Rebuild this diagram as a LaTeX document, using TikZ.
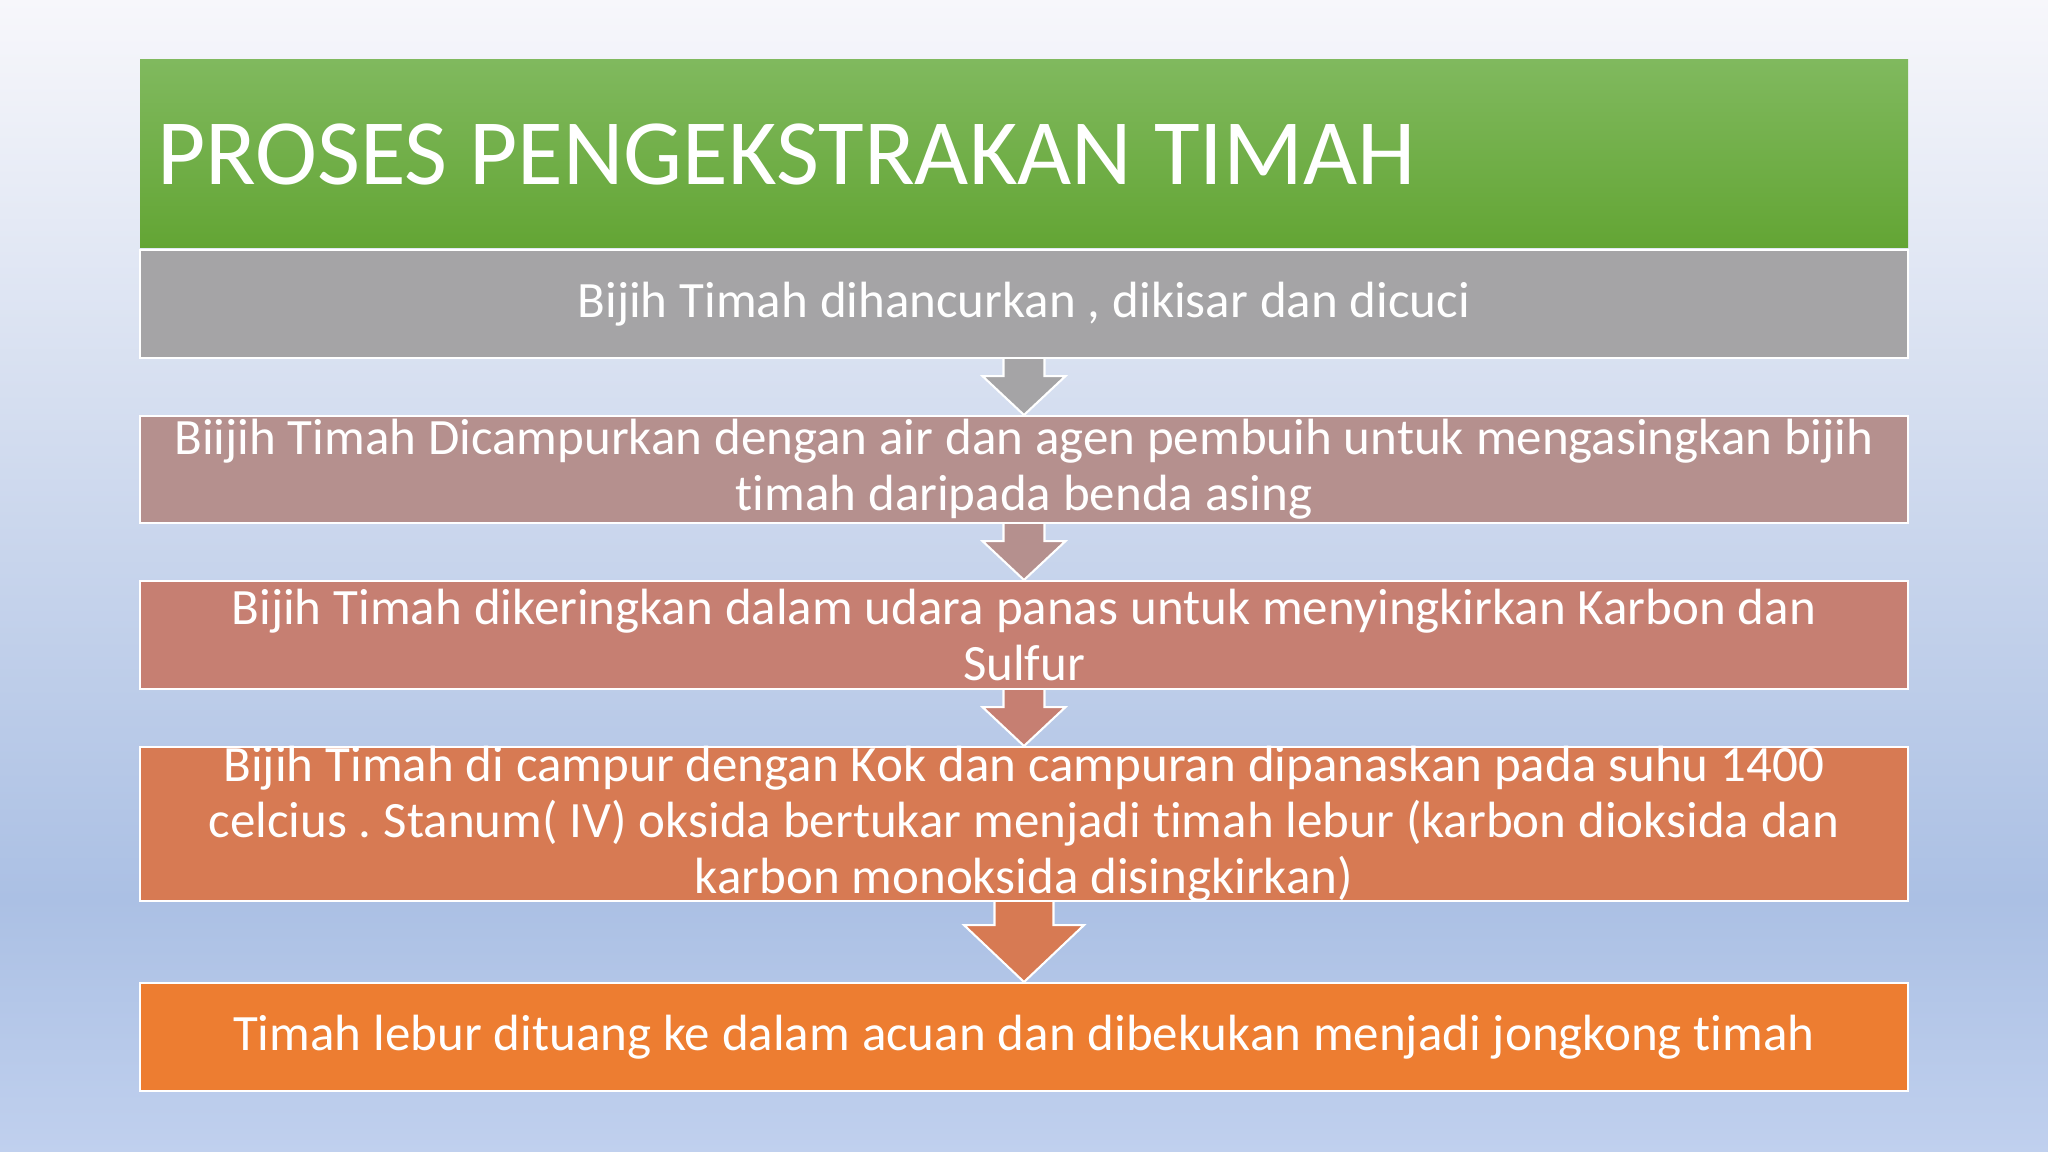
\documentclass[tikz,border=0pt]{standalone}
\usepackage{fontspec}
\setmainfont{Carlito}[Ligatures=NoCommon]
\usetikzlibrary{positioning}

\definecolor{latarAtas}{HTML}{F7F7FB}
\definecolor{latarAtasTengah}{HTML}{D2DCEF}
\definecolor{latarTengah}{HTML}{ABC0E4}
\definecolor{latarBawah}{HTML}{C0D0EE}
\definecolor{hijauAtas}{HTML}{80B95E}
\definecolor{hijauBawah}{HTML}{63A534}
\definecolor{kelabu}{HTML}{A5A4A6}
\definecolor{merahJambu}{HTML}{B5908E}
\definecolor{merahBata}{HTML}{C67F72}
\definecolor{jingga}{HTML}{D77A53}
\definecolor{oren}{HTML}{ED7D31}

% warna latar: bahagian 25bp-75bp meliputi seluruh segi empat
\pgfdeclareverticalshading{latar}{100bp}{color(0bp)=(latarBawah); color(25bp)=(latarBawah);
  color(36bp)=(latarTengah); color(56bp)=(latarAtasTengah); color(75bp)=(latarAtas); color(100bp)=(latarAtas)}

\tikzset{
  jarakRapat/.style={execute at begin node={\spaceskip=0.235em\relax\xspaceskip=0.235em\relax}},
  langkah/.style={draw=white, line width=0.6pt, text=white, minimum width=17.68cm, anchor=north,
    text width=17.5cm, align=center, inner xsep=0pt, inner ysep=-2pt, jarakRapat,
    font=\fontsize{14.5}{16}\selectfont},
  panah/.style={draw=white, line width=0.6pt},
}

\begin{document}
\begin{tikzpicture}
            % Latar belakang
            \shade[shading=latar] (0,0) rectangle (20.48,-11.52);
            \useasboundingbox (0,0) rectangle (20.48,-11.52);

            % Tajuk
            \node[shade, top color=hijauAtas, bottom color=hijauBawah, text=white, minimum width=17.68cm,
              minimum height=1.88cm, text width=17.34cm, inner xsep=0.17cm, inner ysep=0pt, align=left, jarakRapat,
              font=\fontsize{26.6}{30}\selectfont] (tajuk) at (10.24,-1.54) {PROSES PENGEKSTRAKAN TIMAH};

            % Langkah-langkah
            \node[langkah, fill=kelabu, minimum height=1.08cm] (s1) at (10.24,-2.49)
              {Bijih Timah dihancurkan , dikisar dan dicuci};
            \node[langkah, fill=merahJambu, minimum height=1.07cm] (s2) at (10.24,-4.15)
              {Biijih Timah Dicampurkan dengan air dan agen pembuih untuk mengasingkan bijih\\ timah daripada benda asing};
            \node[langkah, fill=merahBata, minimum height=1.08cm] (s3) at (10.24,-5.80)
              {Bijih Timah dikeringkan dalam udara panas untuk menyingkirkan Karbon dan\\ Sulfur};
            \node[langkah, fill=jingga, minimum height=1.54cm] (s4) at (10.24,-7.46)
              {Bijih Timah di campur dengan Kok dan campuran dipanaskan pada suhu 1400\\ celcius . Stanum( IV) oksida bertukar menjadi timah lebur (karbon dioksida dan\\ karbon monoksida disingkirkan)};
            \node[langkah, fill=oren, minimum height=1.08cm] (s5) at (10.24,-9.82)
              {Timah lebur dituang ke dalam acuan dan dibekukan menjadi jongkong timah};

            % Anak panah antara langkah
            \filldraw[panah, fill=kelabu, shift={(s1.south)}] (-0.205,0) -- (-0.205,-0.17) -- (-0.415,-0.17)
              -- (s2.north) -- (0.415,-0.17) -- (0.205,-0.17) -- (0.205,0);
            \filldraw[panah, fill=merahJambu, shift={(s2.south)}] (-0.205,0) -- (-0.205,-0.17) -- (-0.415,-0.17)
              -- (s3.north) -- (0.415,-0.17) -- (0.205,-0.17) -- (0.205,0);
            \filldraw[panah, fill=merahBata, shift={(s3.south)}] (-0.205,0) -- (-0.205,-0.17) -- (-0.415,-0.17)
              -- (s4.north) -- (0.415,-0.17) -- (0.205,-0.17) -- (0.205,0);
            \filldraw[panah, fill=jingga, shift={(s4.south)}] (-0.295,0) -- (-0.295,-0.23) -- (-0.6,-0.23)
              -- (s5.north) -- (0.6,-0.23) -- (0.295,-0.23) -- (0.295,0);
        \end{tikzpicture}
\end{document}
